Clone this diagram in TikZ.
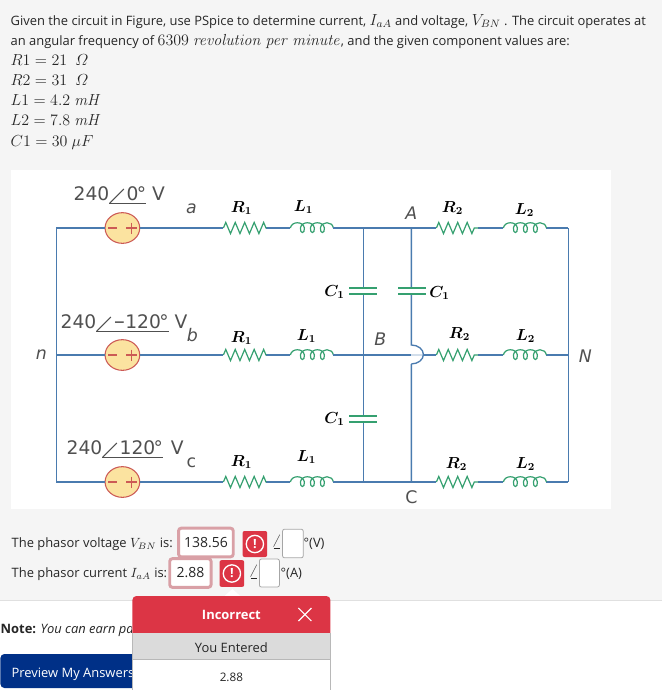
\documentclass[tikz,border=0pt]{standalone}
\usepackage{amsmath}
\usepackage[no-math]{fontspec}
\setmainfont{Open Sans}
\newfontfamily\figfont{DejaVu Sans}
\usetikzlibrary{decorations.pathmorphing,shapes.geometric}

\definecolor{pagegray}{HTML}{F5F5F5}
\definecolor{wireblue}{HTML}{4A7BAF}
\definecolor{partgreen}{HTML}{35A070}
\definecolor{srcfill}{HTML}{FBE3A0}
\definecolor{srcline}{HTML}{CC5A55}
\definecolor{labgray}{HTML}{505050}
\definecolor{alertred}{HTML}{DC3545}
\definecolor{halored}{HTML}{D9A0A6}
\definecolor{navybtn}{HTML}{003087}

\newcommand{\phasorang}[1]{\underline{\smash{\rlap{\raisebox{-2.6pt}{\rotatebox[origin=lb]{45}{\rule{15pt}{0.8pt}}}}}\hspace{13pt}#1\kern-1.2pt°}}
\newcommand{\bigmath}[1]{{\fontsize{11.7}{12}\selectfont$#1$}}

\tikzset{
  wire/.style={draw=wireblue, line width=1pt},
  resistor/.style={draw=partgreen, line width=0.9pt, decorate,
                   decoration={zigzag, segment length=7.1pt, amplitude=4.2pt}},
  inductor/.pic={
    \draw[partgreen, line width=0.9pt]
      (0,0) .. controls (1,-7) and (13,-7) .. (14,0) .. controls (14.5,6) and (9.5,6) .. (10,0)
      .. controls (11,-7) and (23,-7) .. (24,0) .. controls (24.5,6) and (19.5,6) .. (20,0)
      .. controls (21,-7) and (33,-7) .. (34,0) .. controls (34.5,6) and (29.5,6) .. (30,0)
      .. controls (31,-7) and (42,-7) .. (43,0);
  },
  plate/.style={draw=partgreen, line width=0.9pt},
  source/.style={ellipse, draw=srcline, fill=srcfill, line width=0.8pt,
                 minimum width=26pt, minimum height=23pt, inner sep=0pt},
  figlabel/.style={font=\figfont\fontsize{14}{15}\selectfont, text=labgray, inner sep=0pt, anchor=base west},
  nodelabel/.style={font=\figfont\itshape\fontsize{13}{14}\selectfont, text=labgray, inner sep=0pt},
  plainlabel/.style={font=\figfont\fontsize{13}{14}\selectfont, text=labgray, inner sep=0pt},
  partlabel/.style={font=\fontsize{12}{13}\selectfont, inner sep=0pt},
  textline/.style={anchor=base west, inner sep=0pt, text=black!85, font=\fontsize{9.7}{12}\selectfont},
  inputbox/.style={draw=gray!70, fill=white, rounded corners=1.5pt, inner sep=0pt, line width=0.6pt},
  badbox/.style={draw=halored, fill=white, rounded corners=2pt, line width=2.2pt, inner sep=0pt,
                 font=\fontsize{10.5}{12}\selectfont, text=black!85},
  alertbtn/.style={fill=alertred, rounded corners=1.5pt, inner sep=0pt},
  alertdot/.style={circle, draw=white, line width=1pt, text=white, inner sep=0pt, minimum size=13pt,
                   font=\bfseries\fontsize{9.5}{10}\selectfont},
  poptext/.style={anchor=base, inner sep=0pt, text=black!85},
}

\begin{document}
\begin{tikzpicture}[x=0.75pt, y=-0.75pt]

\fill[pagegray] (0,0) rectangle (662,600);
\fill[white] (0,600) rectangle (662,690);
\draw[black!12, line width=0.6pt] (0,600) -- (662,600);
\useasboundingbox (0,0) rectangle (662,690);

% question text
\node[textline] (line1) at (10,25) {Given the circuit in Figure, use PSpice to determine current, \bigmath{I_{aA}} and voltage, \bigmath{V_{BN}} . The circuit operates at};
\node[textline] (line2) at (10,45) {an angular frequency of \bigmath{6309~\mathit{revolution~per~minute}}, and the given component values are:};
\node[textline] (valr1) at (10,65) {\bigmath{R1 = 21~~\varOmega}};
\node[textline] (valr2) at (10,85) {\bigmath{R2 = 31~~\varOmega}};
\node[textline] (vall1) at (10,105) {\bigmath{L1 = 4.2~\mathit{mH}}};
\node[textline] (vall2) at (10,125) {\bigmath{L2 = 7.8~\mathit{mH}}};
\node[textline] (valc1) at (10,146) {\bigmath{C1 = 30~\mu F}};

% figure
\fill[white] (11,170) rectangle (611,509);

\foreach \n/\y in {a/228, b/355, c/482}{
  \node[source] (s\n) at (122,\y) {};
  \draw[srcline, line width=0.8pt] (108,\y) -- (117,\y) (126,\y) -- (137,\y) (131,\y-5.5) -- (131,\y+5.5);
  \coordinate (ra\n) at (223,\y);
  \coordinate (rb\n) at (266,\y);
  \coordinate (la\n) at (290,\y);
  \coordinate (lb\n) at (333,\y);
  \coordinate (qa\n) at (436,\y);
  \coordinate (qb\n) at (478,\y);
  \coordinate (ma\n) at (503,\y);
  \coordinate (mb\n) at (546,\y);
  \coordinate (bl\n) at (56,\y);
  \coordinate (br\n) at (568,\y);
  \coordinate (cl\n) at (363,\y);
  \coordinate (cr\n) at (411,\y);
  \draw[wire] (bl\n) -- (s\n) (s\n) -- (ra\n) (rb\n) -- (la\n) (qb\n) -- (ma\n) (mb\n) -- (br\n);
  \path[resistor] (ra\n) -- (rb\n);
  \pic at (la\n) {inductor};
  \path[resistor] (qa\n) -- (qb\n);
  \pic at (ma\n) {inductor};
}

% buses
\draw[wire] (bla) -- (blc);
\draw[wire] (bra) -- (brc);
\draw[wire] (lba) -- (qaa);
\draw[wire] (lbc) -- (qac);
\coordinate (hopin) at (423,355);
\coordinate (hoptop) at (411,345);
\coordinate (hopbot) at (411,364);
\coordinate (capab) at (363,288);
\coordinate (capac) at (363,294);
\coordinate (capbb) at (411,288);
\coordinate (capbc) at (411,294);
\coordinate (capcb) at (363,416);
\coordinate (capcc) at (363,422);
\draw[wire] (lbb) -- (crb);
\draw[wire, draw=wireblue!25] (crb) -- (hopin);
\draw[wire] (hopin) -- (qab);
\draw[wire] (cla) -- (capab) (capac) -- (capcb) (capcc) -- (clc);
\draw[wire] (cra) -- (capbb) (capbc) -- (hoptop)
  arc[start angle=90, end angle=-90, x radius=9pt, y radius=7.1pt] (hopbot) -- (crc);
\draw[plate] (349,288) -- (377,288) (349,294) -- (377,294);
\draw[plate] (398,288) -- (426,288) (398,294) -- (426,294);
\draw[plate] (349,416) -- (377,416) (349,422) -- (377,422);

% figure labels
\node[figlabel] (ea) at (73,200) {240\phasorang{0} V};
\node[figlabel] (eb) at (60,328) {240\phasorang{\scalebox{0.75}[1]{−}120} V};
\node[figlabel] (ec) at (66,454) {240\phasorang{120}\hspace{6pt}V};
\node[nodelabel] (na) at (191,209) {a};
\node[nodelabel] (nb) at (192,335) {b};
\node[plainlabel] (nc) at (191,463) {c};
\node[nodelabel] (nn) at (41,355) {n};
\node[nodelabel] (nA) at (411,213) {A};
\node[nodelabel] (nB) at (380,339) {B};
\node[plainlabel] (nC) at (411,497) {C};
\node[nodelabel] (nN) at (585,356) {N};
\node[partlabel] (r1a) at (241,208) {$\boldsymbol{R_1}$};
\node[partlabel] (r1b) at (241,338) {$\boldsymbol{R_1}$};
\node[partlabel] (r1c) at (241,462) {$\boldsymbol{R_1}$};
\node[partlabel] (l1a) at (303,207) {$\boldsymbol{L_1}$};
\node[partlabel] (l1b) at (306,336) {$\boldsymbol{L_1}$};
\node[partlabel] (l1c) at (306,457) {$\boldsymbol{L_1}$};
\node[partlabel] (c1a) at (334,292) {$\boldsymbol{C_1}$};
\node[partlabel] (c1b) at (439,293) {$\boldsymbol{C_1}$};
\node[partlabel] (c1c) at (334,419) {$\boldsymbol{C_1}$};
\node[partlabel] (r2a) at (452,208) {$\boldsymbol{R_2}$};
\node[partlabel] (r2b) at (459,334) {$\boldsymbol{R_2}$};
\node[partlabel] (r2c) at (456,464) {$\boldsymbol{R_2}$};
\node[partlabel] (l2a) at (524,210) {$\boldsymbol{L_2}$};
\node[partlabel] (l2b) at (525,336) {$\boldsymbol{L_2}$};
\node[partlabel] (l2c) at (525,464) {$\boldsymbol{L_2}$};

% answers
\node[textline] (volt) at (11,547) {The phasor voltage {\fontsize{10}{12}\selectfont$V_{BN}$} is:};
\node[badbox, minimum width=41pt, minimum height=21.5pt] (vbox) at (205.5,542.5) {138.56};
\node[alertbtn, minimum width=18.5pt, minimum height=19.5pt] (vbtn) at (254.5,544) {};
\node[alertdot] (vdot) at (vbtn) {!};
\node[textline, font=\fontsize{14}{14}\selectfont] (vang) at (271,548) {$\angle$};
\node[inputbox, minimum width=15.5pt, minimum height=21.5pt] (vin) at (292.5,543.5) {};
\node[textline, font=\fontsize{9.7}{12}\selectfont] (vunit) at (303,547) {°(V)};

\node[textline] (curr) at (11,577) {The phasor current {\fontsize{10}{12}\selectfont$I_{aA}$} is:};
\node[badbox, minimum width=31pt, minimum height=21.5pt] (ibox) at (190,573) {2.88};
\node[alertbtn, minimum width=18.5pt, minimum height=20pt] (ibtn) at (231.5,573.5) {};
\node[alertdot] (idot) at (ibtn) {!};
\node[textline, font=\fontsize{14}{14}\selectfont] (iang) at (248,578) {$\angle$};
\node[inputbox, minimum width=15pt, minimum height=21pt] (iin) at (269,573) {};
\node[textline, font=\fontsize{9.7}{12}\selectfont] (iunit) at (280,577) {°(A)};

% below the panel
\node[textline] (note) at (0,633) {\textbf{Note:} \textit{You can earn pa}};
\fill[navybtn, rounded corners=3pt] (0,654) rectangle (140,688);
\node[textline, text=white] (prev) at (11,677) {Preview My Answers};

% popover
\fill[white] (223,597) -- (232,589) -- (241,597) -- cycle;
\fill[white] (132,620) rectangle (330,690);
\fill[alertred, rounded corners=3pt] (132,596) rectangle (330,640);
\fill[black!14] (132,633) rectangle (330,659);
\draw[black!28, line width=0.6pt] (132,633) -- (132,690) (330,633) -- (330,690) (132,659) -- (330,659);
\node[poptext, text=white, font=\bfseries\fontsize{9.7}{12}\selectfont] (ptitle) at (231,619) {Incorrect};
\coordinate (xa) at (298,608);
\coordinate (xb) at (311,621);
\coordinate (xc) at (298,621);
\coordinate (xd) at (311,608);
\draw[white, line width=0.9pt] (xa) -- (xb) (xc) -- (xd);
\node[poptext, font=\fontsize{9.7}{12}\selectfont] (phead) at (231,652) {You Entered};
\node[poptext, font=\fontsize{8.8}{12}\selectfont] (pval) at (231,681) {2.88};

\end{tikzpicture}
\end{document}
